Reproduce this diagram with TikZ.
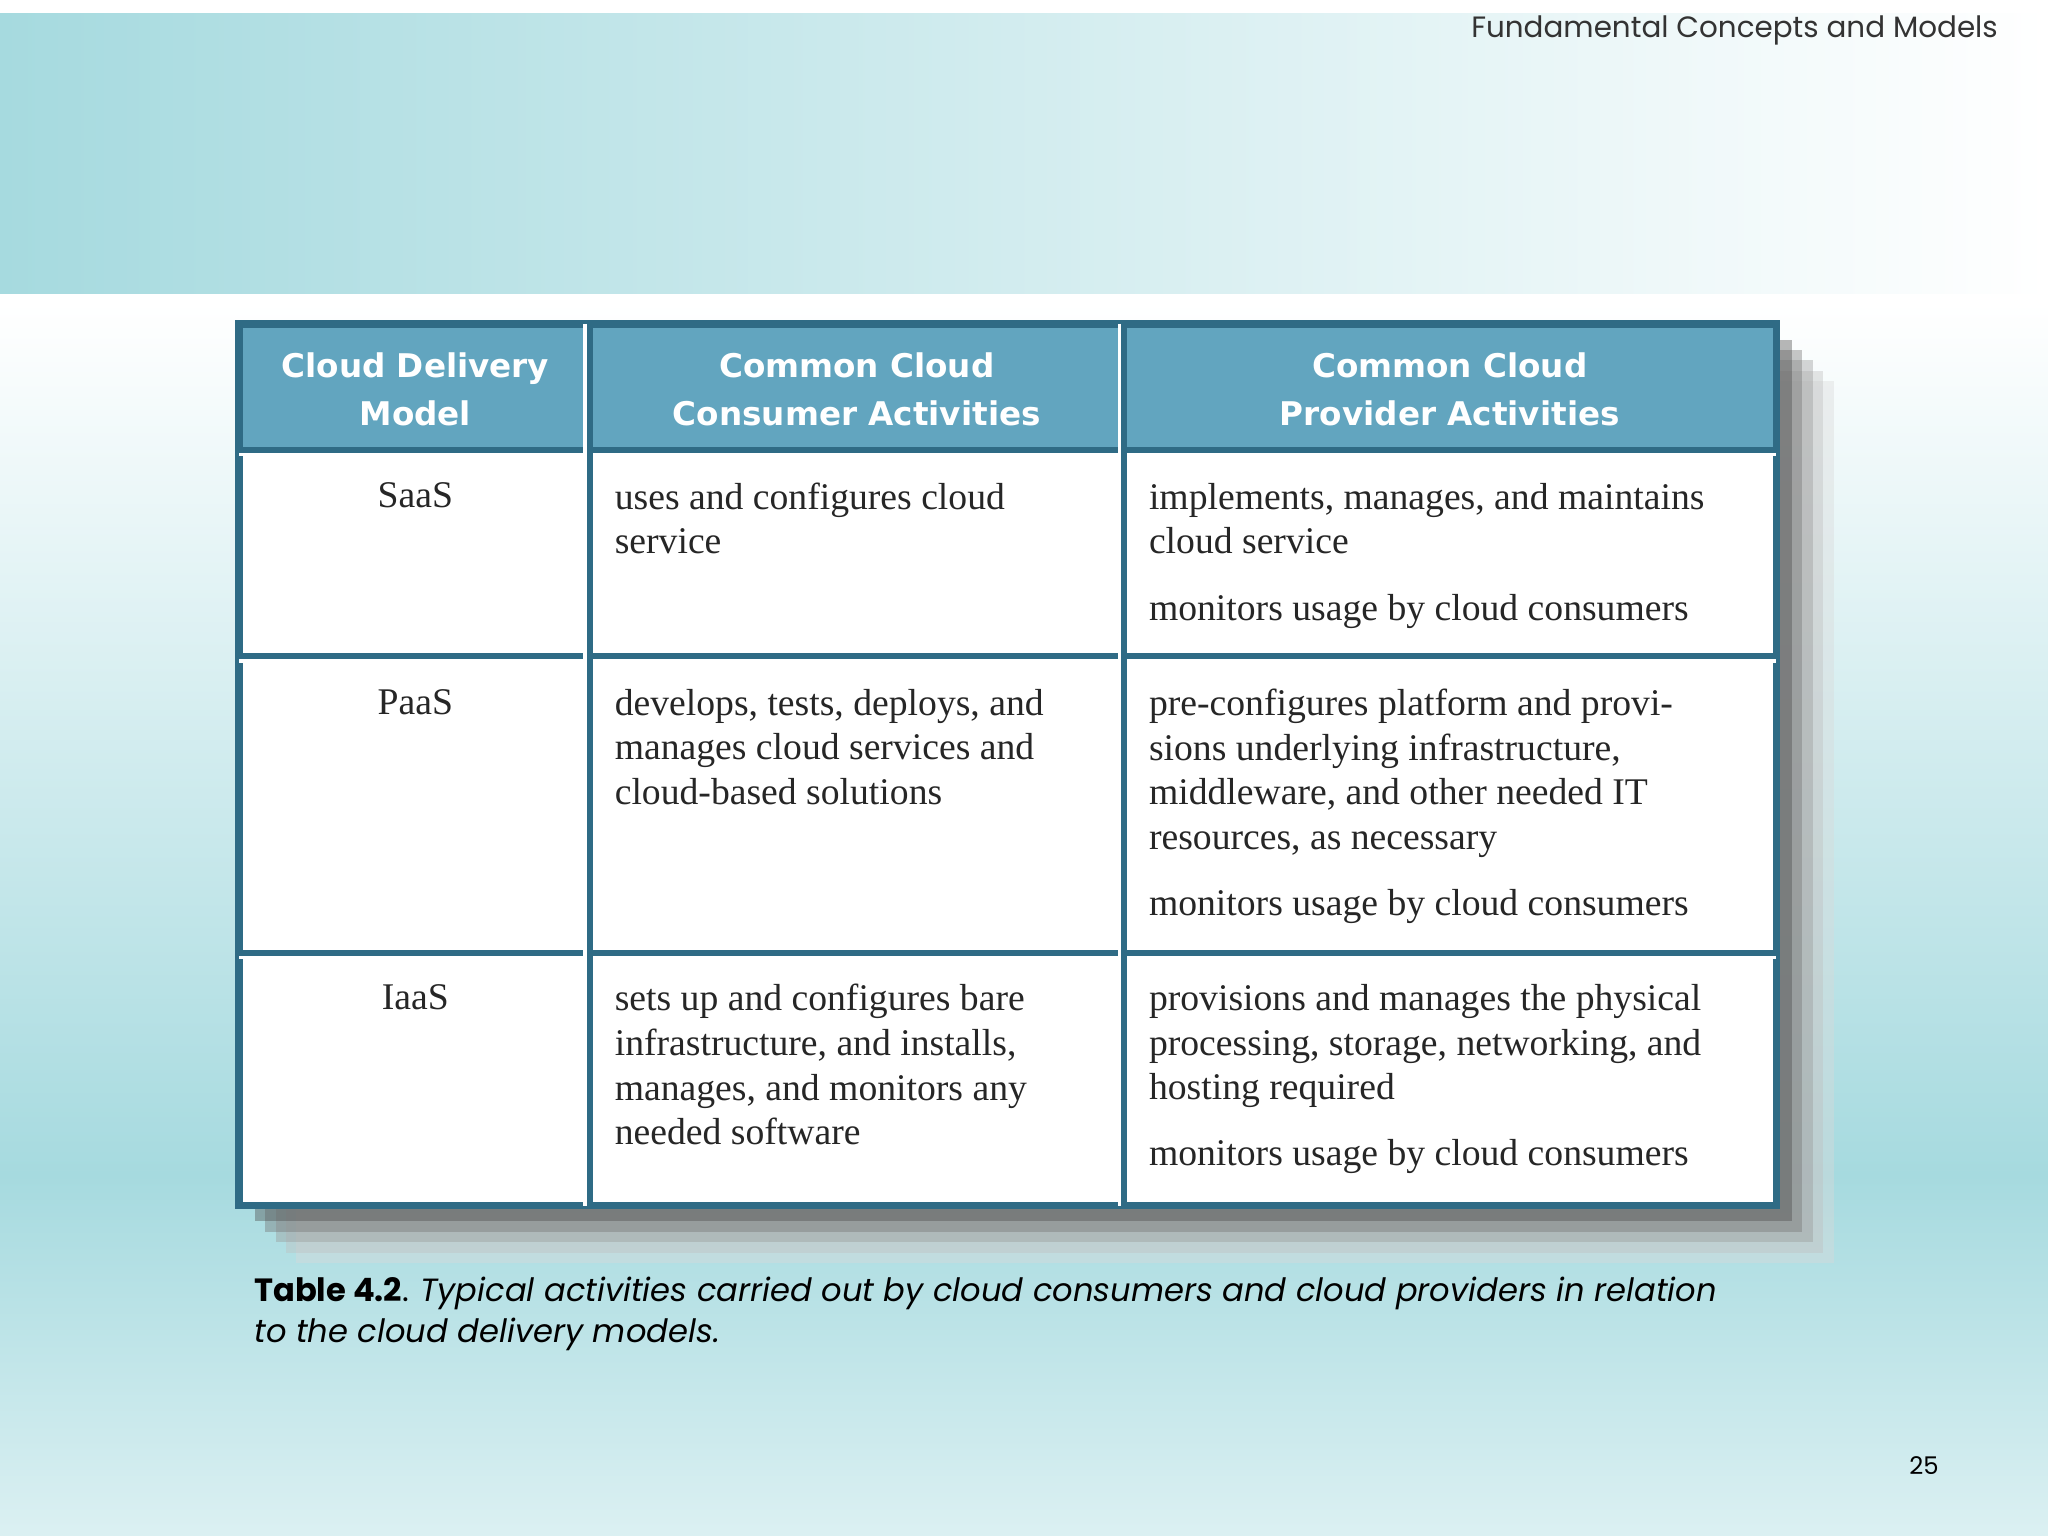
\documentclass[tikz,border=0pt]{standalone}
\usepackage{fontspec}
\setmainfont{Liberation Serif}
\newfontfamily\hdr{DejaVu Sans}
\newfontfamily\gothic{Poppins}
\newfontfamily\capf{Poppins}
\begin{document}
\begin{tikzpicture}[x=0.01cm,y=-0.01cm,
  cell/.style={anchor=north west,inner sep=0pt,align=left,font=\fontsize{8.2}{9.7}\selectfont,text=black!85},
  hd/.style={anchor=center,align=center,text=white,font=\hdr\bfseries\fontsize{7.1}{10.4}\selectfont},
  grid/.style={draw=tealdark,line width=1.6pt}]
\definecolor{tealdark}{HTML}{2F6B85}
\definecolor{hdfill}{HTML}{62A5BF}
\definecolor{teal1}{HTML}{A6DADF}
\useasboundingbox (0,0) rectangle (1568,1176);
\fill[white] (0,0) rectangle (1568,1176);
\shade[top color=white,bottom color=teal1] (0,232) rectangle (1568,900);
\shade[top color=teal1,bottom color=white!60!teal1] (0,900) rectangle (1568,1176);
\shade[left color=teal1,right color=white] (0,10) rectangle (1568,225);
\node[anchor=east,font=\gothic\fontsize{6.4}{8}\selectfont,text=black!80] (title) at (1542,23) {Fundamental Concepts and Models};
% shadow
\foreach \i/\o in {44/15,36/25,28/40,20/55,12/70}{
  \fill[black!\o,opacity=0.4] (183+\i,248+\i) rectangle (1360+\i,923+\i);}
\fill[white] (183,248) rectangle (1360,923);
\fill[hdfill] (183,248) rectangle (1360,345);
\draw[grid] (183,248) rectangle (1360,923);
\foreach \yy in {345,503,730}{\draw[grid] (183,\yy) -- (1360,\yy);
  \draw[white,line width=0.8pt] (183,\yy+3) -- (1360,\yy+3);}
\foreach \xx in {451,860}{\draw[grid] (\xx,248) -- (\xx,923);
  \draw[white,line width=0.8pt] (\xx-3,248) -- (\xx-3,923);}
\node[hd] (h1) at (318,298) {Cloud Delivery\\Model};
\node[hd] (h2) at (656,298) {Common Cloud\\Consumer Activities};
\node[hd] (h3) at (1110,298) {Common Cloud\\Provider Activities};
\node[cell,anchor=north] (saas) at (318,369) {SaaS};
\node[cell,anchor=north] (paas) at (318,527) {PaaS};
\node[cell,anchor=north] (iaas) at (318,753) {IaaS};
\node[cell] (c1) at (470,369) {uses and configures cloud\\service};
\node[cell] (c2) at (470,527) {develops, tests, deploys, and\\manages cloud services and\\cloud-based solutions};
\node[cell] (c3) at (470,753) {sets up and configures bare\\infrastructure, and installs,\\manages, and monitors any\\needed software};
\node[cell] (p1) at (879,369) {implements, manages, and maintains\\cloud service};
\node[cell] (p1b) at (879,454) {monitors usage by cloud consumers};
\node[cell] (p2) at (879,527) {pre-configures platform and provi-\\sions underlying infrastructure,\\middleware, and other needed IT\\resources, as necessary};
\node[cell] (p2b) at (879,680) {monitors usage by cloud consumers};
\node[cell] (p3) at (879,753) {provisions and manages the physical\\processing, storage, networking, and\\hosting required};
\node[cell] (p3b) at (879,872) {monitors usage by cloud consumers};
\node[anchor=north west,inner sep=0pt,align=left,font=\capf\fontsize{7}{8.9}\selectfont] (cap) at (194,977)
 {\textbf{Table 4.2}. \textit{Typical activities carried out by cloud consumers and cloud providers in relation}\\\textit{to the cloud delivery models.}};
\node[font=\capf\fontsize{5.3}{6}\selectfont] (pg) at (1473,1122) {25};
\end{tikzpicture}
\end{document}
